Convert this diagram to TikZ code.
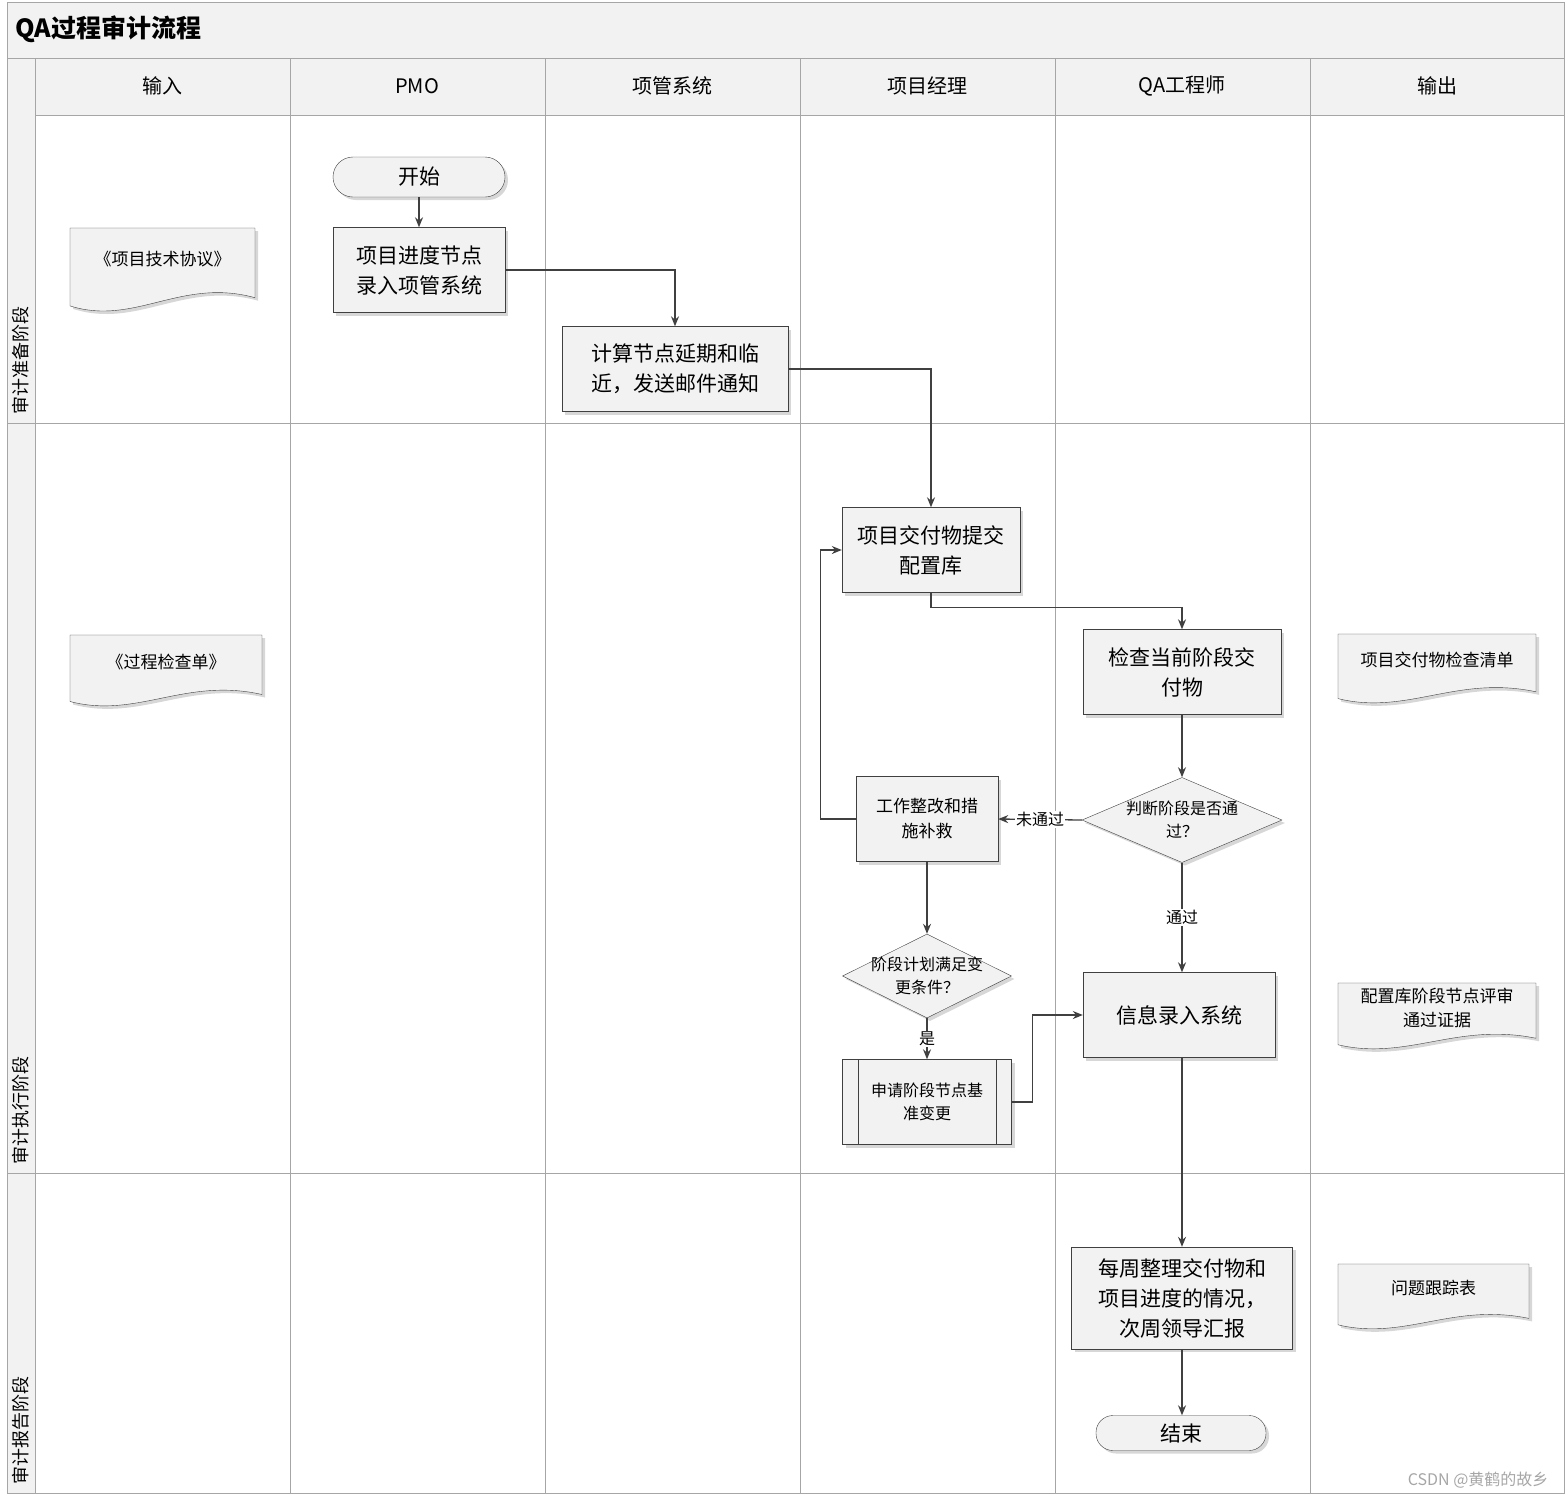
\documentclass[tikz,border=0pt]{standalone}
\usepackage{fontspec}
\setmainfont{Noto Sans CJK SC}
\usetikzlibrary{shapes.geometric,shadows,arrows.meta}
\definecolor{ln}{HTML}{404040}
\definecolor{hd}{HTML}{F2F2F2}
\tikzset{
  sh/.style={drop shadow={shadow xshift=3pt,shadow yshift=-3pt,fill=gray!45,opacity=.7}},
  box/.style={draw=ln,fill=hd,sh,inner sep=0pt,align=center,font=\fontsize{21}{30}\selectfont},
  sbox/.style={box,font=\fontsize{17}{25}\selectfont},
  dia/.style={draw=ln,fill=hd,sh,diamond,aspect=2.35,inner sep=0pt,align=center,font=\fontsize{16}{23}\selectfont},
  docshape/.style={draw=ln,fill=hd,sh},
  doctext/.style={font=\fontsize{17}{24}\selectfont,align=center},
  arr/.style={draw=ln,line width=1.3pt,-{Stealth[length=10pt,width=8pt]}},
  lab/.style={fill=white,inner sep=1pt,font=\fontsize{16}{20}\selectfont},
  grid/.style={draw=gray!70,line width=0.8pt},
  hdtext/.style={font=\fontsize{20}{24}\selectfont},
}
\newcommand\wavedoc[6]{%
  \path[docshape] (#2,#3) -- (#4,#3) -- ({#4},{#5-0.15*(#5-#3)})
    .. controls ({#2+0.6*(#4-#2)},{#5-0.4*(#5-#3)}) and ({#2+0.35*(#4-#2)},{#5+0.2*(#5-#3)}) ..
    ({#2},{#5-0.05*(#5-#3)}) -- cycle;
  \node[doctext] (#1) at ({(#2+#4)/2},{#3+0.38*(#5-#3)}) {#6};}
\begin{document}
\begin{tikzpicture}[x=1pt,y=-1pt]
\useasboundingbox (0,0) rectangle (1566,1500);
% frame and headers
\fill[hd] (7,2) rectangle (1564,58);
\fill[hd] (35,58) rectangle (1564,115);
\fill[hd] (7,58) rectangle (35,1493);
\draw[grid] (7,2) rectangle (1564,1493);
\draw[grid] (7,58) -- (1564,58);
\draw[grid] (35,115) -- (1564,115);
\draw[grid] (7,423) -- (1564,423);
\draw[grid] (7,1173) -- (1564,1173);
\foreach \x in {35,290,545,800,1055,1310} \draw[grid] (\x,58) -- (\x,1493);
\node[anchor=west,font=\fontsize{25}{30}\selectfont\bfseries] (title) at (12,29) {QA过程审计流程};
\node[hdtext] (h1) at (162,86) {输入};
\node[hdtext] (h2) at (417,86) {PMO};
\node[hdtext] (h3) at (672,86) {项管系统};
\node[hdtext] (h4) at (927,86) {项目经理};
\node[hdtext] (h5) at (1182,86) {QA工程师};
\node[hdtext] (h6) at (1437,86) {输出};
\node[hdtext,rotate=90,anchor=west,font=\fontsize{18}{20}\selectfont] (ph1) at (21,418) {审计准备阶段};
\node[hdtext,rotate=90,anchor=west,font=\fontsize{18}{20}\selectfont] (ph2) at (21,1168) {审计执行阶段};
\node[hdtext,rotate=90,anchor=west,font=\fontsize{18}{20}\selectfont] (ph3) at (21,1488) {审计报告阶段};
% documents
\wavedoc{doc1}{70}{228}{255}{310}{《项目技术协议》}
\wavedoc{doc2}{70}{635}{262}{705}{《过程检查单》}
\wavedoc{doc3}{1338}{634}{1536}{702}{项目交付物检查清单}
\wavedoc{doc4}{1338}{983}{1536}{1048}{配置库阶段节点评审\\通过证据}
\wavedoc{doc5}{1338}{1264}{1529}{1328}{问题跟踪表}
% process nodes
\node[box,rounded corners=20pt,minimum width=172pt,minimum height=40pt] (start) at (419,177) {开始};
\node[box,minimum width=172pt,minimum height=85pt] (p1) at (419,270) {项目进度节点\\录入项管系统};
\node[box,minimum width=226pt,minimum height=85pt] (p2) at (675,369) {计算节点延期和临\\近，发送邮件通知};
\node[box,minimum width=178pt,minimum height=85pt] (p3) at (931,550) {项目交付物提交\\配置库};
\node[box,minimum width=198pt,minimum height=85pt] (p4) at (1182,672) {检查当前阶段交\\付物};
\node[dia,minimum width=198pt,minimum height=84pt] (d1) at (1182,820) {判断阶段是否通\\过？};
\node[sbox,minimum width=142pt,minimum height=85pt] (p5) at (927,819) {工作整改和措\\施补救};
\node[dia,inner xsep=-16pt,minimum width=169pt,minimum height=84pt] (d2) at (927,976) {阶段计划满足变\\更条件？};
\node[sbox,font=\fontsize{16}{23}\selectfont,minimum width=169pt,minimum height=85pt] (p6) at (927,1102) {申请阶段节点基\\准变更};
\draw[ln] (858,1060) -- (858,1145) (996,1060) -- (996,1145);
\node[box,minimum width=192pt,minimum height=85pt] (p7) at (1179,1015) {信息录入系统};
\node[box,minimum width=221pt,minimum height=102pt] (p8) at (1182,1298) {每周整理交付物和\\项目进度的情况，\\次周领导汇报};
\node[box,rounded corners=17pt,minimum width=170pt,minimum height=35pt] (end) at (1181,1433) {结束};
% connectors
\draw[arr] (start) -- (p1);
\draw[arr] (p1.east) -| (p2.north);
\draw[arr] (p2.east) -| (p3.north);
\draw[arr] (p3.south) -- ++(0,15) -| (p4.north);
\draw[arr] (p4) -- (d1);
\draw[arr] (d1.west) -- node[lab] (l1) {未通过} (p5.east);
\draw[arr] (d1.south) -- node[lab,pos=0.5] (l2) {通过} (d1.south |- p7.north);
\draw[arr] (p5.west) -- ++(-35,0) |- (p3.west);
\draw[arr] (p5) -- (d2);
\draw[arr] (d2.south) -- node[lab] (l3) {是} (p6.north);
\draw[arr] (p6.east) -- ++(21,0) |- (p7.west);
\draw[arr] (p8.south |- p7.south) -- (p8.north);
\draw[arr] (p8.south) -- (end.north -| p8.south);
\node[anchor=east,text=gray!70,font=\fontsize{16}{20}\selectfont] (wm) at (1552,1480) {CSDN @黄鹤的故乡};
\end{tikzpicture}
\end{document}
